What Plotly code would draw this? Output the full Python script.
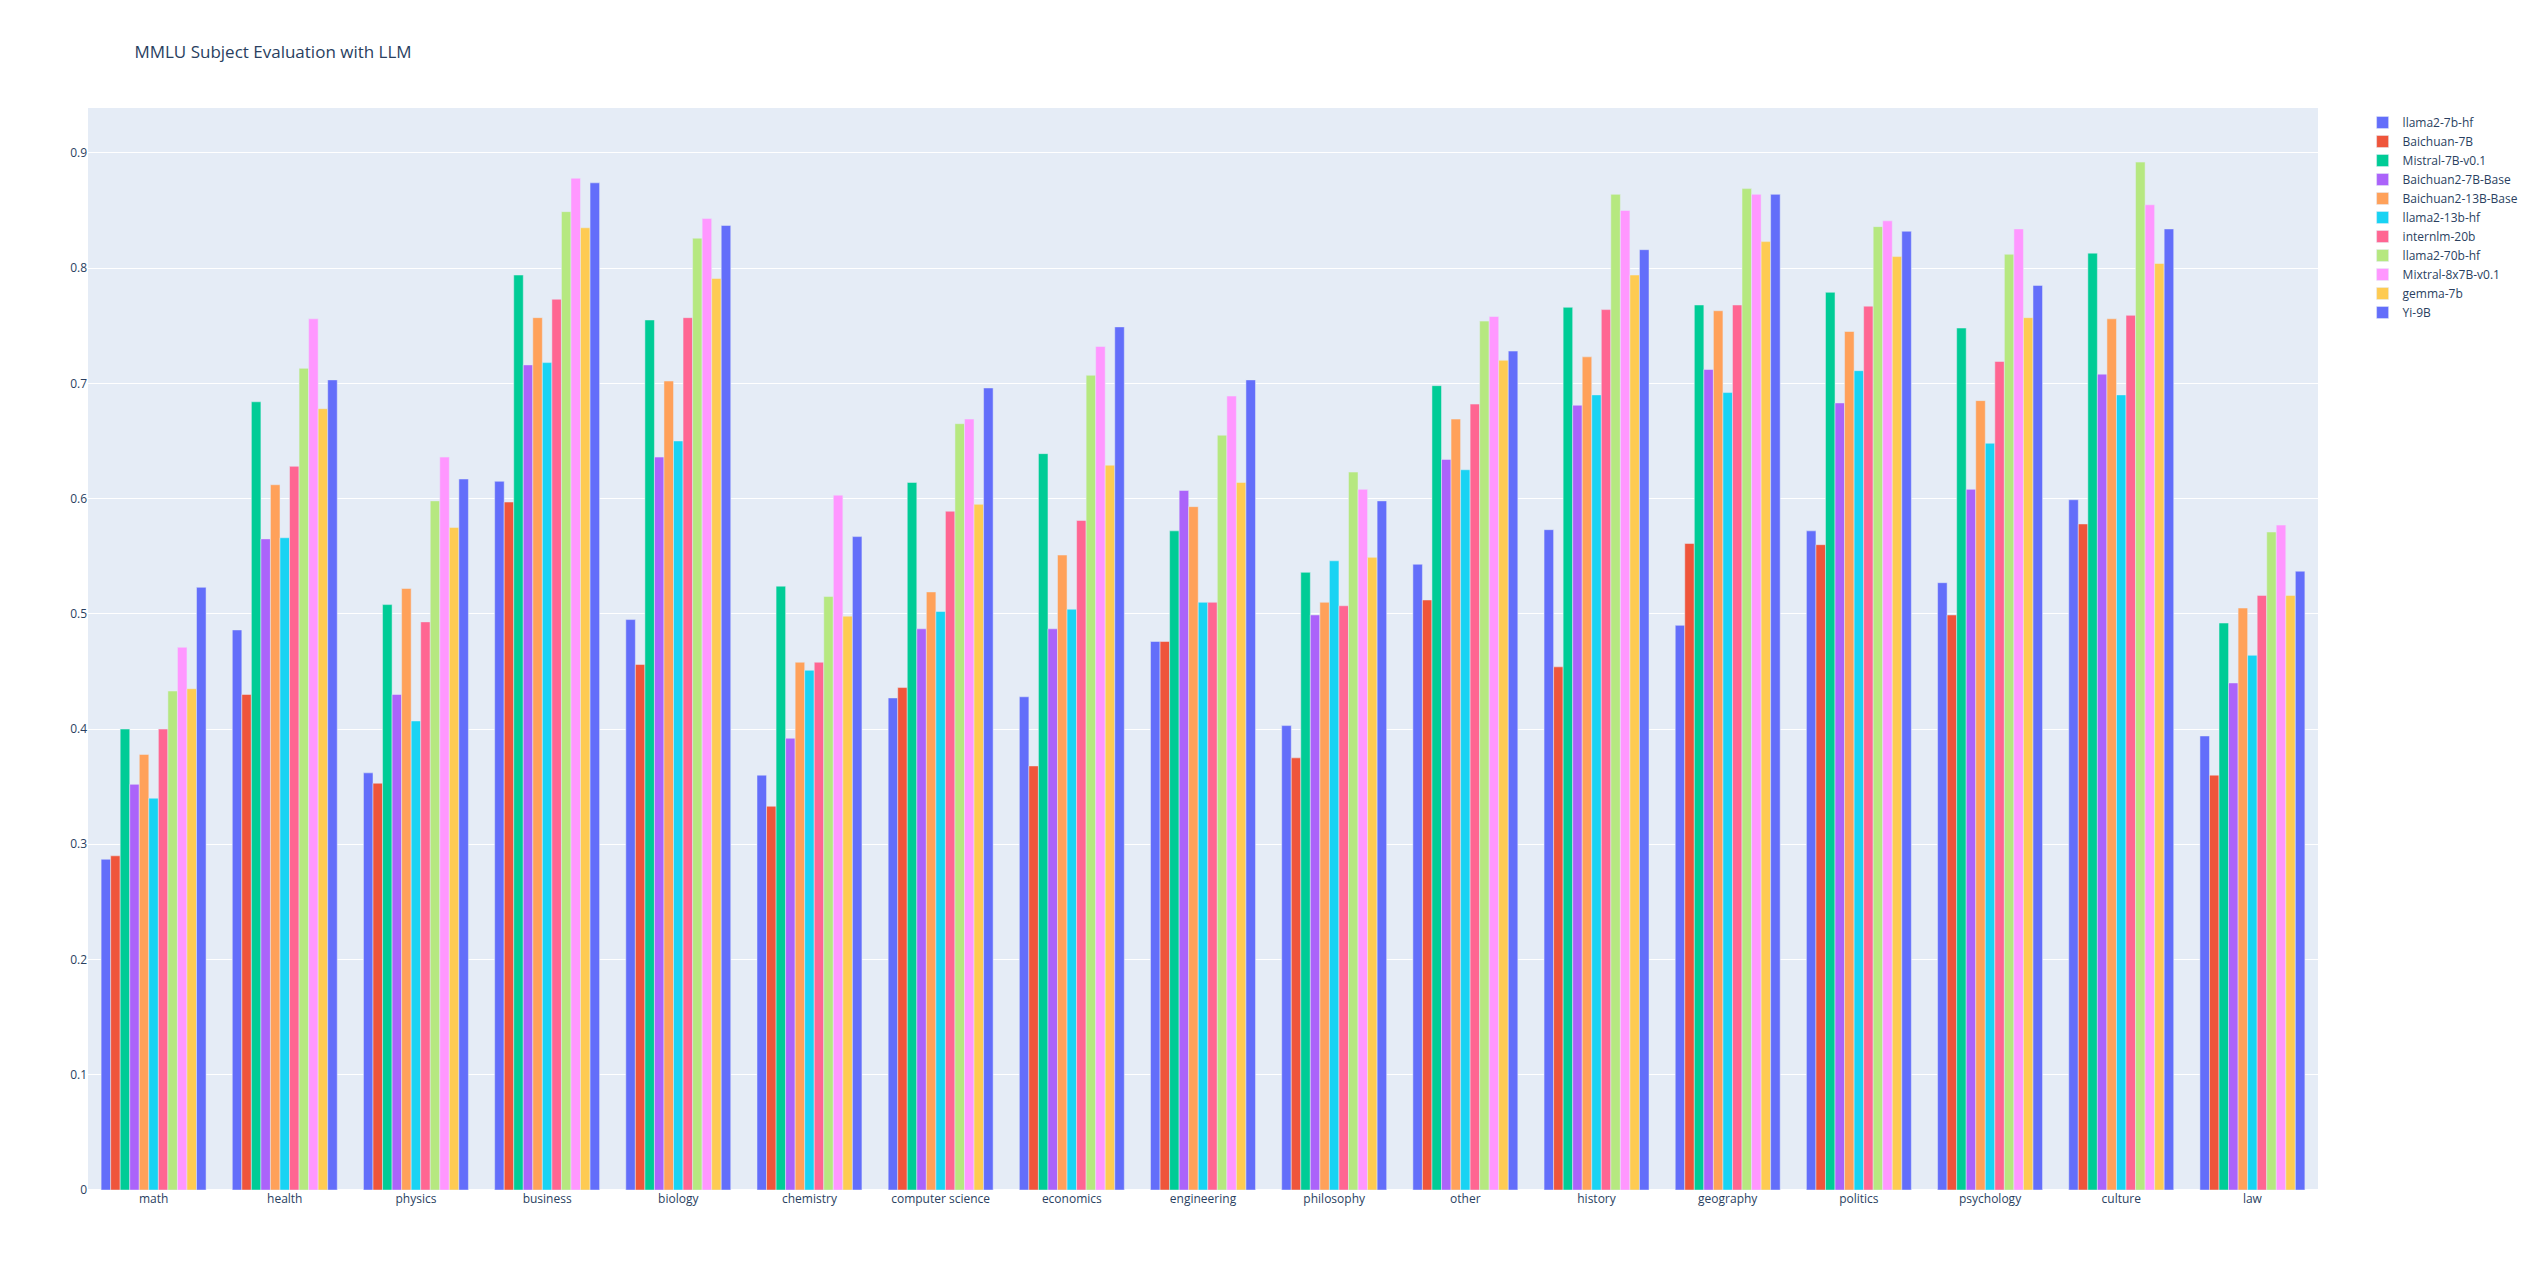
import plotly.graph_objects as go

categories = ["math","health","physics","business","biology","chemistry","computer science","economics","engineering","philosophy","other","history","geography","politics","psychology","culture","law"]
models = ["llama2-7b-hf","Baichuan-7B","Mistral-7B-v0.1","Baichuan2-7B-Base","Baichuan2-13B-Base","llama2-13b-hf","internlm-20b","llama2-70b-hf","Mixtral-8x7B-v0.1","gemma-7b","Yi-9B"]
# rows: categories, columns: models
scores = [
    [0.287,0.290,0.400,0.352,0.378,0.340,0.400,0.433,0.471,0.435,0.523],
    [0.486,0.430,0.684,0.565,0.612,0.566,0.628,0.713,0.756,0.678,0.703],
    [0.362,0.353,0.508,0.430,0.522,0.407,0.493,0.598,0.636,0.575,0.617],
    [0.615,0.597,0.794,0.716,0.757,0.718,0.773,0.849,0.878,0.835,0.874],
    [0.495,0.456,0.755,0.636,0.702,0.650,0.757,0.826,0.843,0.791,0.837],
    [0.360,0.333,0.524,0.392,0.458,0.451,0.458,0.515,0.603,0.498,0.567],
    [0.427,0.436,0.614,0.487,0.519,0.502,0.589,0.665,0.669,0.595,0.696],
    [0.428,0.368,0.639,0.487,0.551,0.504,0.581,0.707,0.732,0.629,0.749],
    [0.476,0.476,0.572,0.607,0.593,0.510,0.510,0.655,0.689,0.614,0.703],
    [0.403,0.375,0.536,0.499,0.510,0.546,0.507,0.623,0.608,0.549,0.598],
    [0.543,0.512,0.698,0.634,0.669,0.625,0.682,0.754,0.758,0.720,0.728],
    [0.573,0.454,0.766,0.681,0.723,0.690,0.764,0.864,0.850,0.794,0.816],
    [0.490,0.561,0.768,0.712,0.763,0.692,0.768,0.869,0.864,0.823,0.864],
    [0.572,0.560,0.779,0.683,0.745,0.711,0.767,0.836,0.841,0.810,0.832],
    [0.527,0.499,0.748,0.608,0.685,0.648,0.719,0.812,0.834,0.757,0.785],
    [0.599,0.578,0.813,0.708,0.756,0.690,0.759,0.892,0.855,0.804,0.834],
    [0.394,0.360,0.492,0.440,0.505,0.464,0.516,0.571,0.577,0.516,0.537],
]

fig = go.Figure()
for j, m in enumerate(models):
    fig.add_trace(go.Bar(name=m, x=categories, y=[row[j] for row in scores]))
fig.update_layout(barmode="group", title="MMLU Subject Evaluation with LLM")
fig.write_html("out.html")
